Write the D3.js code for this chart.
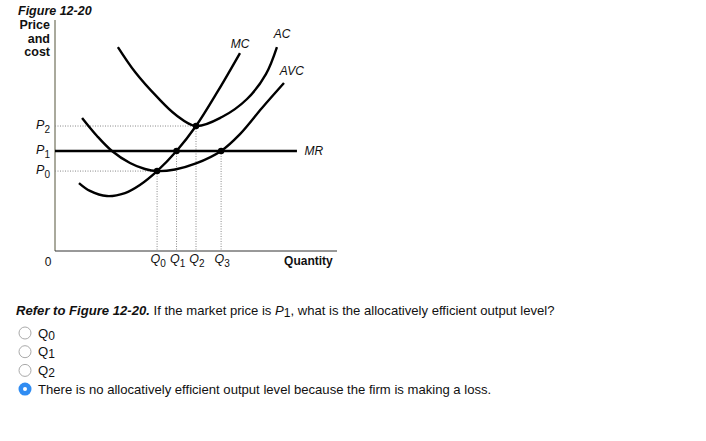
<!DOCTYPE html>
<html>
<head>
<meta charset="utf-8">
<script src="https://cdn.jsdelivr.net/npm/d3@7"></script>
<style>
  body { margin: 0; background: #fff; }
  text { font-family: Helvetica, Arial, "Liberation Sans", sans-serif; fill: #111; }
</style>
</head>
<body>
<div id="chart"></div>
<script>
const WIDTH  = 706;
const HEIGHT = 441;

// curves (quantity, price) on a 0-100 scale
const mcPoints  = [[8.5,29.4],[12.4,26.0],[18.4,23.8],[24.8,25.1],[30.1,28.6],[36.2,34.6],[43.1,43.3],[50.0,54.1],[57.8,69.3],[65.6,85.7]];
const avcPoints = [[9.6,57.6],[14.9,49.8],[20.2,43.3],[26.6,38.1],[31.9,35.5],[36.2,34.6],[42.6,35.3],[50.0,37.9],[58.9,43.3],[65.6,50.6],[73.4,61.9],[81.2,72.7]];
const acPoints  = [[22.3,88.3],[28.4,77.5],[36.2,66.7],[42.9,58.9],[50.0,54.1],[59.2,58.0],[68.1,65.8],[74.8,76.6],[78.7,88.3]];
const mrPrice   = 43.3;
const mrEnd     = 85.8;

const qNames  = ['0', '1', '2', '3'];
const qValues = [36.2, 43.1, 50.0, 58.9];
const qPrices = [34.6, 43.3, 54.1, 43.3];   // where each dot sits
const pNames  = ['2', '1', '0'];
const pValues = [54.1, 43.3, 34.6];
const pDotted = [50.0, null, 36.2];         // dotted guide runs out to this quantity

const options  = ['0', '1', '2', 'There is no allocatively efficient output level because the firm is making a loss.'];
const selected = 3;

const svg = d3.select('#chart').append('svg')
  .attr('width', WIDTH)
  .attr('height', HEIGHT);

const x = d3.scaleLinear().domain([0, 100]).range([55, 337]);
const y = d3.scaleLinear().domain([0, 100]).range([251, 20]);

// title
svg.append('text')
  .attr('x', 18).attr('y', 15)
  .style('font-size', '12.5px').style('font-weight', 'bold').style('font-style', 'italic')
  .text('Figure 12-20');

// y axis title
['Price', 'and', 'cost'].forEach((t, i) => {
  svg.append('text')
    .attr('x', 50).attr('y', 29 + i * 13.5)
    .attr('text-anchor', 'end')
    .style('font-size', '12.5px').style('font-weight', 'bold')
    .text(t);
});

// axes
svg.append('line')
  .attr('x1', x(0)).attr('x2', x(0)).attr('y1', y(100)).attr('y2', y(0))
  .attr('stroke', '#55553a').attr('stroke-width', 1);
svg.append('line')
  .attr('x1', x(0)).attr('x2', x(100)).attr('y1', y(0)).attr('y2', y(0))
  .attr('stroke', '#333').attr('stroke-width', 1);

// dotted guides
const dotted = svg.append('g')
  .attr('stroke', '#888').attr('stroke-width', 1).attr('stroke-dasharray', '1,1.5');
pValues.forEach((p, i) => {
  if (pDotted[i] === null) return;
  dotted.append('line')
    .attr('x1', x(0)).attr('x2', x(pDotted[i])).attr('y1', y(p)).attr('y2', y(p));
});
qValues.forEach((q, i) => {
  dotted.append('line')
    .attr('x1', x(q)).attr('x2', x(q)).attr('y1', y(qPrices[i])).attr('y2', y(0));
});

// MR
svg.append('line')
  .attr('x1', x(0)).attr('x2', x(mrEnd)).attr('y1', y(mrPrice)).attr('y2', y(mrPrice))
  .attr('stroke', '#000').attr('stroke-width', 2.4);

// cost curves
const line = d3.line().x(d => x(d[0])).y(d => y(d[1])).curve(d3.curveCatmullRom);
[mcPoints, avcPoints, acPoints].forEach(pts => {
  svg.append('path')
    .attr('d', line(pts))
    .attr('fill', 'none').attr('stroke', '#000').attr('stroke-width', 2.4);
});

// intersection dots
qValues.forEach((q, i) => {
  svg.append('circle')
    .attr('cx', x(q)).attr('cy', y(qPrices[i])).attr('r', 3.2).attr('fill', '#000');
});

// curve labels
const curveLabels = [['MC', 65.6, 89.5, 'middle'], ['AC', 80.5, 94, 'middle'], ['AVC', 84, 78, 'middle'], ['MR', 88.5, 43.3, 'start']];
curveLabels.forEach(([t, q, p, anchor]) => {
  svg.append('text')
    .attr('x', x(q)).attr('y', y(p)).attr('dy', '0.35em')
    .attr('text-anchor', anchor)
    .style('font-size', '12px').style('font-style', 'italic')
    .text(t);
});

// price tick labels
pValues.forEach((p, i) => {
  const t = svg.append('text')
    .attr('x', 50).attr('y', y(p) + 3)
    .attr('text-anchor', 'end')
    .style('font-size', '12.5px');
  t.append('tspan').style('font-style', 'italic').text('P');
  t.append('tspan').attr('dy', 4).style('font-size', '10px').text(pNames[i]);
});

// quantity tick labels
svg.append('text')
  .attr('x', 48).attr('y', y(0) + 15)
  .attr('text-anchor', 'middle')
  .style('font-size', '12px')
  .text('0');
qValues.forEach((q, i) => {
  const t = svg.append('text')
    .attr('x', x(q) + 1).attr('y', y(0) + 12)
    .attr('text-anchor', 'middle')
    .style('font-size', '12.5px');
  t.append('tspan').style('font-style', 'italic').text('Q');
  t.append('tspan').attr('dy', 4).style('font-size', '10px').text(qNames[i]);
});
svg.append('text')
  .attr('x', x(98.5)).attr('y', y(0) + 14)
  .attr('text-anchor', 'end')
  .style('font-size', '12px').style('font-weight', 'bold')
  .text('Quantity');

// question
const qText = svg.append('text')
  .attr('x', 16).attr('y', 315)
  .style('font-size', '13.1px');
qText.append('tspan').style('font-weight', 'bold').style('font-style', 'italic').text('Refer to Figure 12-20.');
qText.append('tspan').text(' If the market price is ');
qText.append('tspan').style('font-style', 'italic').text('P');
qText.append('tspan').attr('dy', 2).style('font-size', '12px').text('1');
qText.append('tspan').attr('dy', -2).text(', what is the allocatively efficient output level?');

// answer options
options.forEach((o, i) => {
  const cy = 333 + i * 18.7;
  if (i === selected) {
    svg.append('circle').attr('cx', 25).attr('cy', cy).attr('r', 6.5).attr('fill', '#2f8cf2');
    svg.append('circle').attr('cx', 25).attr('cy', cy).attr('r', 2).attr('fill', '#fff');
  } else {
    svg.append('circle').attr('cx', 25).attr('cy', cy).attr('r', 6)
      .attr('fill', '#fff').attr('stroke', '#aaa').attr('stroke-width', 1);
  }
  const t = svg.append('text').attr('x', 38).attr('y', cy + 4.5).style('font-size', '13.1px');
  if (i === selected) {
    t.text(o);
  } else {
    t.append('tspan').text('Q');
    t.append('tspan').attr('dy', 2).style('font-size', '12px').text(o);
  }
});
</script>
</body>
</html>
